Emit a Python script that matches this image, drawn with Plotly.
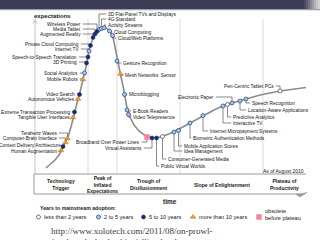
import plotly.graph_objects as go

# ---------------- data ----------------
# hype curve: time position (x) and expectations (y, picture units, downward)
CURVE_T = [46, 50, 55, 59, 62, 65, 68, 71, 74, 77, 80, 83, 86, 88, 90, 93, 96, 100, 104, 107,
           110, 113, 115, 117, 120, 123, 125, 127, 130, 134, 139, 145, 151, 156, 162, 170, 180,
           190, 203, 215, 225, 235, 245, 260, 280, 300, 306]
CURVE_E = [168, 164.5, 160, 155, 149.5, 143.5, 137, 127, 114, 103, 92, 80, 67, 56, 47, 38, 32,
           29, 27.5, 28.5, 31, 37, 47, 60, 72, 86, 98, 108, 117, 125, 131, 135.5, 137.5, 138,
           136.5, 133.5, 128.5, 123, 115.5, 109.5, 105, 102, 99, 95, 91, 88, 87.5]

TECH_NAMES = [
    "Wireless Power", "Media Tablet", "Augmented Reality", "Private Cloud Computing",
    "Internet TV", "Speech-to-Speech Translation", "3D Printing", "Social Analytics",
    "Mobile Robots", "Video Search", "Autonomous Vehicles", "Extreme Transaction Processing",
    "Tangible User Interfaces", "Terahertz Waves", "Computer-Brain Interface",
    "Context Delivery Architecture", "Human Augmentation",
    "3D Flat-Panel TVs and Displays", "4G Standard", "Activity Streams", "Cloud Computing",
    "Cloud/Web Platforms", "Gesture Recognition", "Mesh Networks: Sensor", "Microblogging",
    "E-Book Readers", "Video Telepresence", "Broadband Over Power Lines", "Virtual Assistants",
    "Public Virtual Worlds", "Consumer-Generated Media", "Idea Management",
    "Mobile Application Stores", "Biometric Authentication Methods",
    "Internet Micropayment Systems", "Interactive TV", "Predictive Analytics",
    "Electronic Paper", "Location-Aware Applications", "Speech Recognition",
    "Pen-Centric Tablet PCs",
]
TECH_T = [97, 95, 93, 90.5, 89, 88, 86.5, 84.5, 83, 79.5, 78, 74.5, 73, 67.5, 65.5, 63, 61,
          99, 101.5, 104, 109.5, 112.5, 117, 120.5, 124.5, 127, 128.5, 147, 152, 156.5, 162.5,
          174, 178.5, 190, 203, 223, 227.5, 232, 240, 246, 280]
TECH_E = [31.5, 34, 37.5, 45.5, 51, 57, 63, 73, 79.5, 94.5, 99, 112, 117.5, 138.5, 142.5,
          146.5, 150.5, 29.5, 28.5, 27.8, 31, 35.5, 61, 74, 94.5, 110, 114.5, 137, 138, 138,
          136.5, 132, 130.5, 123, 115.5, 106, 104.5, 103, 101, 99, 91]
# L <2y, B 2-5y, D 5-10y, T >10y, O obsolete
TECH_CAT = ["D", "D", "D", "D", "B", "D", "D", "B", "T", "D", "T", "D", "T", "T", "T", "D", "T",
            "B", "B", "B", "B", "B", "B", "T", "B", "B", "B", "O", "D", "D", "L", "B", "B", "B",
            "B", "B", "L", "B", "B", "B", "L"]

# label placement (layout): side L = text ends at x, side R = text starts at x
LABEL_SIDE = ["L"] * 17 + ["R"] * 10 + ["L", "L", "R", "R", "R", "R", "R", "R", "R", "R",
                                       "L", "R", "R", "L"]
LABEL_X = [82, 82, 82, 80, 80, 78, 78, 79, 79, 76, 76, 71, 71, 58, 58, 61.5, 58,
           107, 107, 107, 113, 117, 122, 124, 128, 132, 132, 141, 143, 160, 167, 183, 183, 192,
           209, 232, 232, 215, 247, 251, 275]
LABEL_Y = [24, 29, 34, 44, 49, 57, 62, 73, 79, 94, 99, 112, 117, 133, 138, 145, 151,
           14, 19, 25, 32, 38, 63, 75, 94, 111, 117, 142, 148, 166, 159, 151, 146, 138, 131, 123,
           117, 97, 110, 103, 86]

PHASE_NAMES = ["Technology<br>Trigger", "Peak of<br>Inflated<br>Expectations",
               "Trough of<br>Disillusionment", "Slope of Enlightenment",
               "Plateau of<br>Productivity"]
PHASE_BOUNDS = [34, 88, 117, 180, 263, 305]

LEGEND_TITLE = "Years to mainstream adoption:"
LEGEND_CATS = ["L", "B", "D", "T", "O"]
LEGEND_LABELS = ["less than 2 years", "2 to 5 years", "5 to 10 years", "more than 10 years",
                 "obsolete<br>before plateau"]

URL_LINES = ["http://www.xolotech.com/2011/08/on-prowl-", "for-thought-leadership-falling.html"]

# ---------------- styles ----------------
STYLE = {
    "L": dict(symbol="circle", color="#ffffff", line=dict(color="#555555", width=0.8), size=4),
    "B": dict(symbol="circle", color="#a9cbe8", line=dict(color="#2b4f8c", width=0.8), size=4),
    "D": dict(symbol="circle", color="#1c2b6e", line=dict(color="#1c2b6e", width=0.6), size=4),
    "T": dict(symbol="triangle-up", color="#f0a030", line=dict(color="#b86a10", width=0.5), size=5),
    "O": dict(symbol="square", color="#f4849a", line=dict(color="#f4849a", width=0.5), size=5),
}
LABEL_FONT = dict(family="Liberation Sans, Arial", size=4.8, color="#141414")

fig = go.Figure()
shapes = []

# top bar
shapes.append(dict(type="rect", x0=0, x1=320, y0=0, y1=9, fillcolor="#3c3c54", line_width=0,
                   layer="below"))
grad = ["#4a4a60", "#5c5c70", "#707082", "#868696", "#9c9caa", "#b2b2bc", "#c4c4cc", "#d2d2d8"]
for i, c in enumerate(grad):
    shapes.append(dict(type="rect", x0=304 + i * 2, x1=306 + i * 2, y0=0, y1=9, fillcolor=c,
                       line_width=0, layer="below"))
shapes.append(dict(type="rect", x0=0, x1=320, y0=9, y1=10.3, fillcolor="#9a9aa8", line_width=0,
                   layer="below"))

# phase separators
for xb in PHASE_BOUNDS[1:-1]:
    shapes.append(dict(type="line", x0=xb, x1=xb, y0=19, y1=174,
                       line=dict(color="#dcdcdc", width=1), layer="below"))
# y axis with arrow
shapes.append(dict(type="line", x0=35, x1=35, y0=20, y1=174, line=dict(color="#c4c4c4", width=1),
                   layer="below"))
shapes.append(dict(type="path", path="M 33 23.5 L 35 19.5 L 37 23.5",
                   line=dict(color="#c4c4c4", width=1)))
# phase box
shapes.append(dict(type="line", x0=34, x1=306, y0=174, y1=174, line=dict(color="#9a9a9a", width=1)))
shapes.append(dict(type="line", x0=34, x1=300, y0=194, y1=194, line=dict(color="#9a9a9a", width=1)))
shapes.append(dict(type="line", x0=34, x1=34, y0=174, y1=194, line=dict(color="#9a9a9a", width=1)))
shapes.append(dict(type="path", path="M 296 194.5 L 307 192.5 L 300 197 Z",
                   fillcolor="#9a9a9a", line=dict(color="#9a9a9a", width=0.5)))

# hype curve
fig.add_trace(go.Scatter(x=CURVE_T, y=CURVE_E, mode="lines", line=dict(color="#8c8c8c", width=1.6),
                         hoverinfo="skip"))

# leader lines
lx, ly = [], []
for t, e, side, xl, yl in zip(TECH_T, TECH_E, LABEL_SIDE, LABEL_X, LABEL_Y):
    xe = xl + 0.8 if side == "L" else xl - 0.8
    lx += [xe, t, t, None]
    ly += [yl, yl, e, None]
fig.add_trace(go.Scatter(x=lx, y=ly, mode="lines", line=dict(color="#3a3a3a", width=0.6),
                         hoverinfo="skip"))

# markers by category
for cat in ["L", "B", "D", "T", "O"]:
    xs = [t for t, c in zip(TECH_T, TECH_CAT) if c == cat]
    ys = [e for e, c in zip(TECH_E, TECH_CAT) if c == cat]
    st = STYLE[cat]
    fig.add_trace(go.Scatter(x=xs, y=ys, mode="markers",
                             marker=dict(symbol=st["symbol"], color=st["color"], size=st["size"],
                                         line=st["line"]), hoverinfo="skip"))

ann = []
for name, side, xl, yl in zip(TECH_NAMES, LABEL_SIDE, LABEL_X, LABEL_Y):
    ann.append(dict(x=xl, y=yl, text=name, showarrow=False, font=LABEL_FONT,
                    xanchor="right" if side == "L" else "left", yanchor="middle", borderpad=0))

ann.append(dict(x=32, y=16, text="<b>expectations</b>", showarrow=False, xanchor="left",
                yanchor="middle", font=dict(family="Liberation Sans, Arial", size=6, color="#1a1a1a")))
ann.append(dict(x=306, y=171, text="As of August 2010", showarrow=False, xanchor="right",
                yanchor="middle", font=dict(family="Liberation Sans, Arial", size=5, color="#1a1a1a")))
for i, name in enumerate(PHASE_NAMES):
    ann.append(dict(x=(PHASE_BOUNDS[i] + PHASE_BOUNDS[i + 1]) / 2, y=184.5, text="<b>" + name + "</b>",
                    showarrow=False, xanchor="center", yanchor="middle",
                    font=dict(family="Liberation Sans, Arial", size=5, color="#1a1a1a")))
ann.append(dict(x=170, y=201, text="<b>time</b>", showarrow=False, xanchor="center", yanchor="middle",
                font=dict(family="Liberation Sans, Arial", size=6.5, color="#1a1a1a")))
ann.append(dict(x=37.5, y=207.5, text="<b>" + LEGEND_TITLE + "</b>", showarrow=False, xanchor="left",
                yanchor="middle", font=dict(family="Liberation Sans, Arial", size=5.2, color="#1a1a1a")))

# legend row
LEG_SYM_X = [38.5, 98.5, 143.5, 193, 259]
for cat, lab, sx in zip(LEGEND_CATS, LEGEND_LABELS, LEG_SYM_X):
    st = STYLE[cat]
    fig.add_trace(go.Scatter(x=[sx], y=[217], mode="markers",
                             marker=dict(symbol=st["symbol"], color=st["color"], size=st["size"],
                                         line=st["line"]), hoverinfo="skip"))
    ann.append(dict(x=sx + 3.5, y=217 if cat != "O" else 214.5, text=lab, showarrow=False,
                    xanchor="left", yanchor="middle", align="left",
                    font=dict(family="Liberation Sans, Arial", size=5.6, color="#1a1a1a")))

URL_FONT = dict(family="Liberation Serif, Times New Roman", size=9, color="#3c3c3c")
ann.append(dict(x=48.5, y=230.5, text=URL_LINES[0], showarrow=False, xanchor="left",
                yanchor="middle", font=URL_FONT))
ann.append(dict(x=48.5, y=234.8, text=URL_LINES[1], showarrow=False, xanchor="left",
                yanchor="top", font=URL_FONT))

fig.update_layout(
    width=320, height=240, margin=dict(l=0, r=0, t=0, b=0),
    paper_bgcolor="white", plot_bgcolor="white", showlegend=False,
    xaxis=dict(range=[0, 320], visible=False, fixedrange=True),
    yaxis=dict(range=[240, 0], visible=False, fixedrange=True),
    shapes=shapes, annotations=ann,
)
fig.write_html("out.html")
